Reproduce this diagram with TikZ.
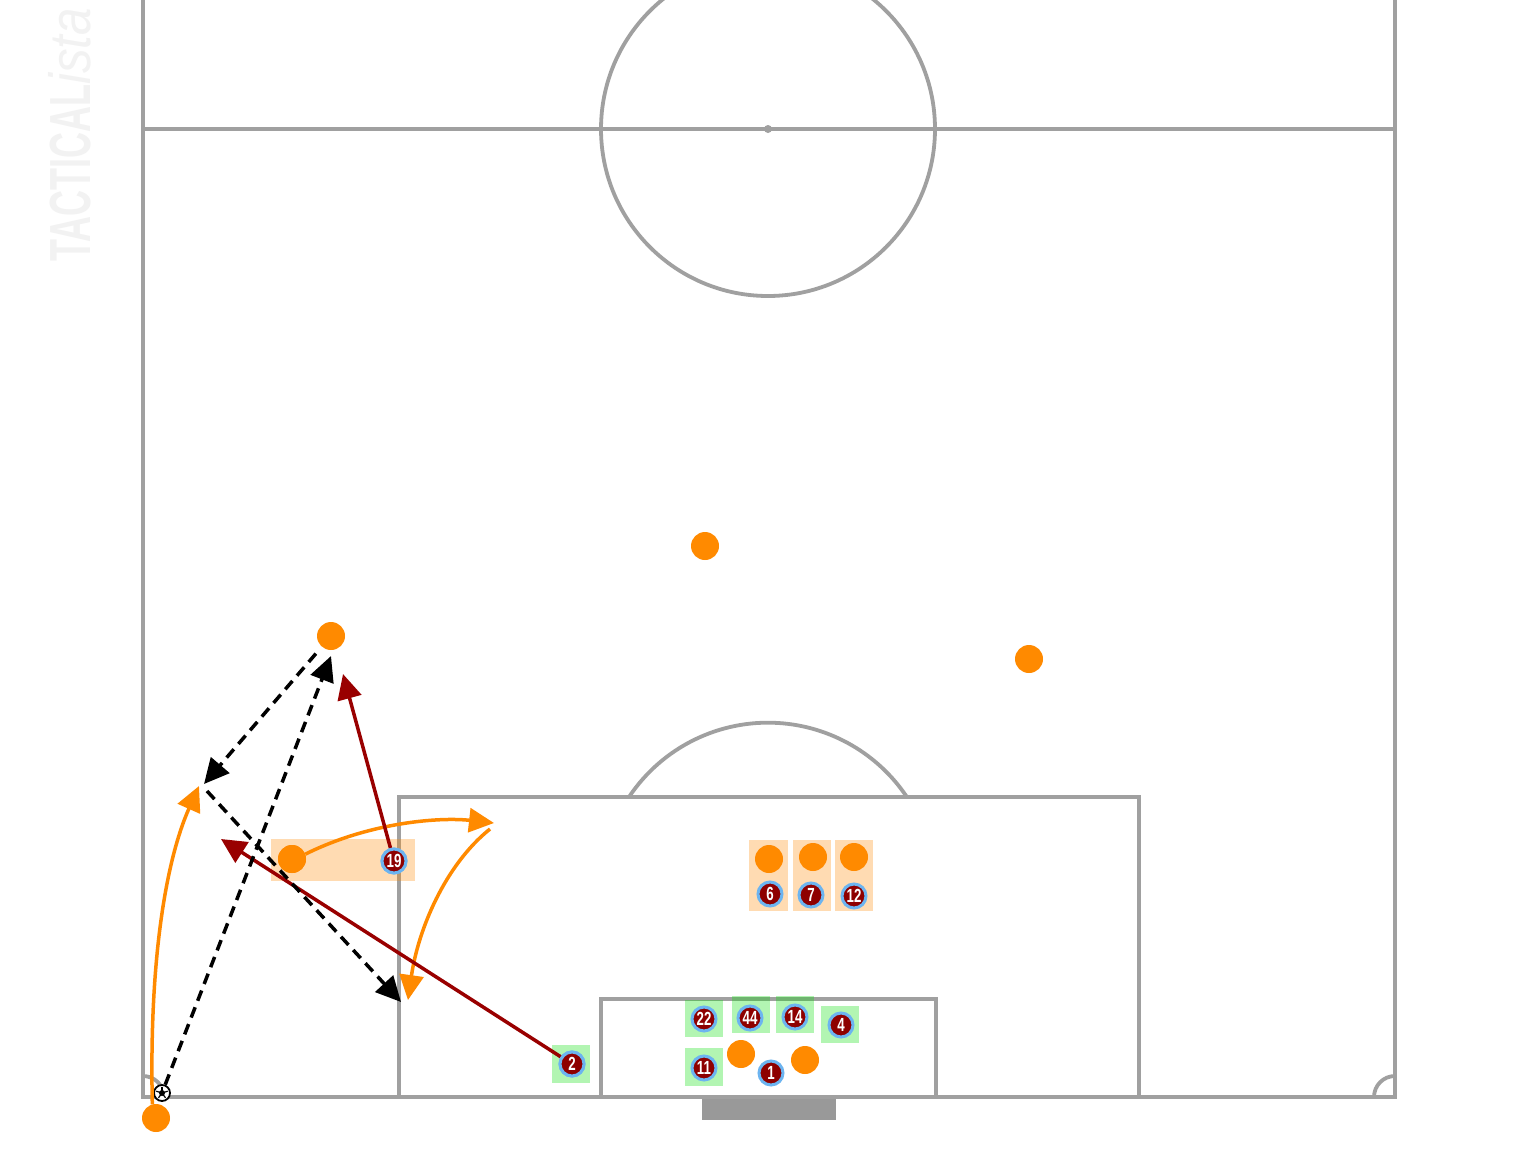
\documentclass[tikz,border=0pt]{standalone}
\usepackage{fontspec}
\usepackage{graphicx}
\usetikzlibrary{arrows.meta}
\newfontfamily\numfont{Liberation Sans}
\definecolor{pitch}{HTML}{A0A0A0}
\definecolor{goalc}{HTML}{999999}
\definecolor{orng}{HTML}{FF8A00}
\definecolor{dred}{HTML}{990000}
\definecolor{tokred}{HTML}{8E0000}
\definecolor{ring}{HTML}{6CB4F0}
\definecolor{zgreen}{HTML}{00E000}
\newcommand{\nm}[1]{\scalebox{0.7}[1]{#1}}
\begin{document}
\begin{tikzpicture}[x=1pt,y=-1pt,
  pline/.style={draw=pitch, line width=3.8pt},
  mate/.style={circle, fill=orng, minimum size=28pt, inner sep=0pt},
  opp/.style={circle, fill=tokred, draw=ring, line width=3pt, minimum size=24pt, inner sep=0pt, text=white, font=\numfont\bfseries\fontsize{19}{19}\selectfont},
  pzone/.style={fill=orng, fill opacity=0.3},
  gzone/.style={fill=zgreen, fill opacity=0.3},
  pass/.style={draw=black, line width=3.5pt, dash pattern=on 11pt off 7pt, -{Triangle[length=25pt,width=24pt]}},
  runarrow/.style={draw=orng, line width=3.5pt, -{Triangle[length=25pt,width=24pt]}},
  redarrow/.style={draw=dred, line width=3.5pt, -{Triangle[length=25pt,width=24pt]}}
]
\useasboundingbox (0,0) rectangle (1536,1152);
\clip (0,0) rectangle (1536,1152);
\fill[white] (0,0) rectangle (1536,1152);

% watermark
\node[rotate=90, anchor=base west, inner sep=0pt, text=black!5, font=\numfont\fontsize{58}{58}\selectfont] (wm) at (90,262)
  {\scalebox{0.62}[1]{\bfseries TACTICAL}\scalebox{0.85}[1]{\itshape ista}};

% pitch
\draw[pline] (143,0) -- (143,1097) -- (1395,1097) -- (1395,0);
\draw[pline] (143,129) -- (1395,129);
\draw[pline] (768,129) circle (167pt);
\fill[pitch] (768,129) circle (4pt);
\draw[pline] (399,1097) -- (399,797) -- (1139,797) -- (1139,1097);
\draw[pline] (629,797) arc[start angle=146.3, end angle=33.7, radius=167pt];
\draw[pline] (601,1097) -- (601,999) -- (936,999) -- (936,1097);
\fill[goalc] (702,1099) rectangle (836,1120);
\draw[pline] (1374,1097) arc[start angle=180, end angle=90, radius=21pt];
\draw[pline] (164,1097) arc[start angle=0, end angle=90, radius=21pt];

% zones
\fill[pzone] (271,839) rectangle (415,881);
\fill[pzone] (749,840) rectangle (788,911);
\fill[pzone] (793,840) rectangle (831,911);
\fill[pzone] (835,840) rectangle (873,911);
\fill[gzone] (685,1000) rectangle (723,1037);
\fill[gzone] (732,996) rectangle (770,1033);
\fill[gzone] (776,996) rectangle (814,1033);
\fill[gzone] (821,1006) rectangle (859,1043);
\fill[gzone] (685,1048) rectangle (723,1086);
\fill[gzone] (552,1045) rectangle (590,1083);

% attacking players
\node[mate] (m1) at (705,546) {};
\node[mate] (m2) at (1029,659) {};
\node[mate] (m3) at (331,636) {};
\node[mate] (m4) at (292,859) {};
\node[mate] (mc) at (156,1118) {};
\node[mate] (m6) at (769,859) {};
\node[mate] (m7) at (813,857) {};
\node[mate] (m8) at (854,857) {};
\node[mate] (m9) at (741,1054) {};
\node[mate] (m10) at (805,1060) {};

% ball
\node[circle, draw=black, fill=white, line width=1.8pt, minimum size=16pt, inner sep=0pt] (ball) at (162,1093) {};
\fill[black] (ball.center) circle (3pt);
\foreach \a in {90,162,234,306,18} {\draw[black, line width=1.2pt] (ball.center) -- ++(\a:6pt);}

% arrow end points
\coordinate (t1) at (331,656);
\coordinate (t2) at (204,784);
\coordinate (s3) at (207,791);
\coordinate (t3) at (401,1002);
\coordinate (t4) at (343,674);
\coordinate (t5) at (221,839);
\coordinate (t6) at (199,786);
\coordinate (t7) at (494,823);
\coordinate (s8) at (490,829);
\coordinate (t8) at (408,1000);

% opponents
\node[opp] (o19) at (394,861) {\nm{19}};
\node[opp] (o6) at (770,894) {\nm{6}};
\node[opp] (o7) at (811,895) {\nm{7}};
\node[opp] (o12) at (854,896) {\nm{12}};
\node[opp] (o22) at (704,1019) {\nm{22}};
\node[opp] (o44) at (750,1018) {\nm{44}};
\node[opp] (o14) at (795,1017) {\nm{14}};
\node[opp] (o4) at (841,1025) {\nm{4}};
\node[opp] (o11) at (704,1068) {\nm{11}};
\node[opp] (o1) at (771,1073) {\nm{1}};
\node[opp] (o2) at (572,1064) {\nm{2}};

% runs
\draw[runarrow] (mc.105) .. controls (149,960) and (166,860) .. (t6);
\draw[runarrow] (m4.20) .. controls (370,822) and (440,817) .. (t7);
\draw[runarrow] (s8) .. controls (445,865) and (418,930) .. (t8);

% red movements
\draw[redarrow] (o19) -- (t4);
\draw[redarrow] (o2) -- (t5);

% passes
\draw[pass] (ball) -- (t1);
\draw[pass, shorten <=9pt] (m3) -- (t2);
\draw[pass] (s3) -- (t3);

% redraw tokens on top of lines
\node[opp] at (o19) {\nm{19}};
\node[opp] at (o2) {\nm{2}};
\node[mate] at (m4) {};
\end{tikzpicture}
\end{document}
